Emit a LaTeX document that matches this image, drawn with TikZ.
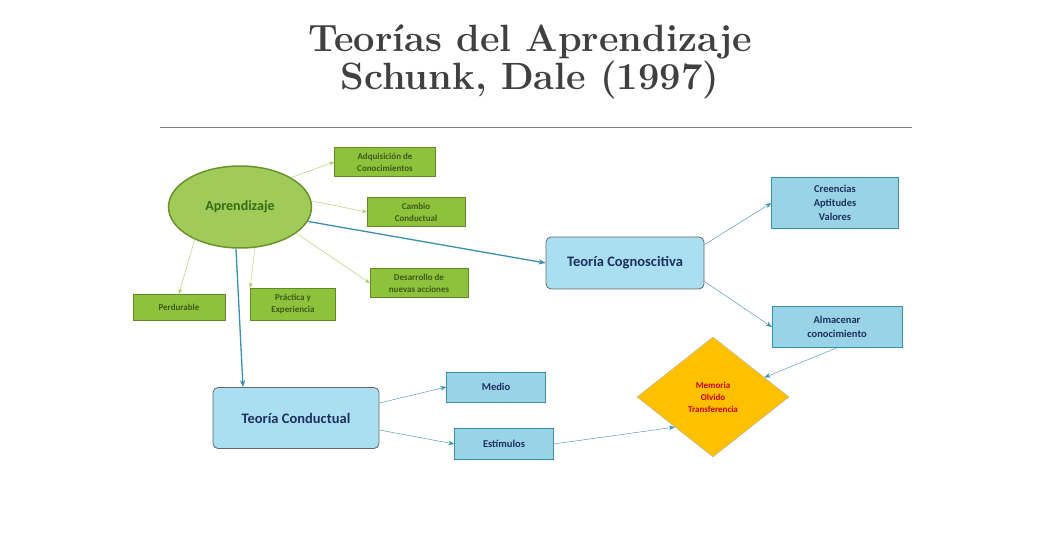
\documentclass[tikz,border=0pt]{standalone}
\usepackage{fontspec}
\setsansfont{Carlito}
\usetikzlibrary{shapes.geometric,arrows.meta,calc}
\definecolor{gfill}{HTML}{8FC23B}
\definecolor{gtext}{HTML}{3C5A1A}
\definecolor{bfill}{HTML}{99D3E6}
\definecolor{bline}{HTML}{3A8FB0}
\definecolor{tfill}{HTML}{A9DFF0}
\definecolor{dblue}{HTML}{1F2F5F}
\tikzset{
 gbox/.style={draw=gfill!70!black,fill=gfill,text=gtext,font=\sffamily\bfseries\fontsize{9}{12}\selectfont,align=center,minimum height=29pt,inner sep=2pt},
 bbox/.style={draw=bline,fill=bfill,text=dblue,font=\sffamily\bfseries\fontsize{10.5}{14}\selectfont,align=center,inner sep=2pt},
 tbox/.style={draw=gray!80!black,thick,fill=tfill,rounded corners=5pt,text=dblue,font=\sffamily\bfseries\fontsize{14.5}{16}\selectfont},
 garr/.style={draw=gfill!80!white,-{Stealth[length=5pt]}},
 barr/.style={draw=bline,-{Stealth[length=6pt]}},
 bthick/.style={draw=bline,line width=1.3pt,-{Stealth[length=7pt]}}
}
\begin{document}
\begin{tikzpicture}[x=1pt,y=-1pt]
\useasboundingbox[fill=white] (0,0) rectangle (1055,553);
\node[font=\bfseries\fontsize{38}{38}\selectfont,text=black!75,align=center] (title) at (530,62) {Teorías del Aprendizaje\\Schunk, Dale (1997)};
\draw[gray,thin] (160,127) -- (912,127);
\node[ellipse,draw=gfill!75!black,line width=1.5pt,fill=gfill!85!white,minimum width=143pt,minimum height=82pt,text=gtext!90!green,font=\sffamily\bfseries\fontsize{14}{16}\selectfont] (ap) at (240,207) {Aprendizaje};
\node[gbox,minimum width=101pt] (adq) at (385,162) {Adquisición de\\Conocimientos};
\node[gbox,minimum width=98pt] (cam) at (416,212) {Cambio\\Conductual};
\node[gbox,minimum width=98pt] (des) at (419,283) {Desarrollo de\\nuevas acciones};
\node[gbox,minimum width=85pt,minimum height=32pt] (pra) at (293,304) {Práctica y\\Experiencia};
\node[gbox,minimum width=92pt,minimum height=26pt] (per) at (179,307) {Perdurable};
\draw[garr] (ap.30) -- (adq.west);
\draw[garr] (ap.5) -- (cam.west);
\draw[garr] (ap.-25) -- (des.west);
\draw[garr] (ap.-70) -- (pra.north west);
\draw[garr] (198,228) -- (per.north);
\node[tbox,minimum width=158pt,minimum height=52pt] (cog) at (625,263) {Teoría Cognoscitiva};
\node[tbox,minimum width=166pt,minimum height=61pt] (con) at (296,418) {Teoría Conductual};
\node[bbox,minimum width=127pt,minimum height=51pt] (cre) at (835,203) {Creencias\\Aptitudes\\Valores};
\node[bbox,minimum width=130pt,minimum height=41pt] (alm) at (837,327) {Almacenar\\conocimiento};
\node[bbox,minimum width=99pt,minimum height=30pt] (med) at (496,387) {Medio};
\node[bbox,minimum width=99pt,minimum height=31pt] (est) at (504,444) {Estímulos};
\node[diamond,draw=gray!60,fill={rgb,255:red,255;green,192;blue,0},minimum width=152pt,minimum height=120pt,inner sep=0pt,text=red!80!black,font=\sffamily\bfseries\fontsize{9}{12}\selectfont,align=center] (dia) at (713,397) {Memoria\\Olvido\\Transferencia};
\draw[bthick] (ap.-12) -- (cog.west);
\draw[bthick] (236,249) -- (con.north -| 243,0);
\draw[barr] (cog.north east) ++(0,8) -- (cre.west);
\draw[barr] (cog.south east) ++(0,-8) -- (alm.west);
\draw[barr] (alm.south) -- ($(dia.north east)!0.35!(dia.east)$);
\draw[barr] (con.east) ++(0,-15) -- (med.west);
\draw[barr] (con.east) ++(0,12) -- (est.west);
\draw[barr] (est.east) -- (dia.south west);
\end{tikzpicture}
\end{document}
